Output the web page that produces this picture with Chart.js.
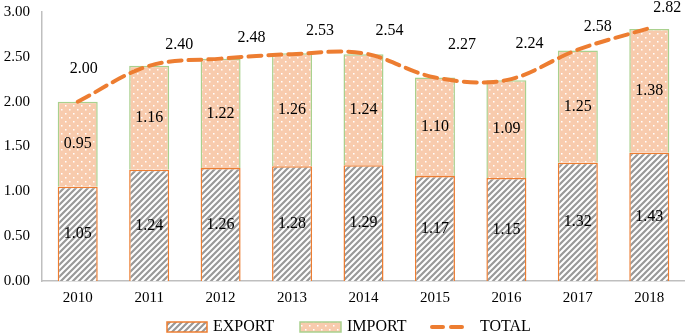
<!DOCTYPE html>
<html lang="en">
<head>
    <meta charset="UTF-8">
    <title>Export / Import / Total</title>
    <script src="https://cdn.jsdelivr.net/npm/chart.js@4.4.0/dist/chart.umd.min.js"></script>
    <style>
        html, body { margin: 0; padding: 0; background: #fff; }
        #wrap { position: relative; width: 685px; height: 335px; }
    </style>
</head>
<body>
    <div id="wrap"><canvas id="chart"></canvas></div>

    <script>
        const years = ['2010', '2011', '2012', '2013', '2014', '2015', '2016', '2017', '2018'];
        const exportValues = [1.05, 1.24, 1.26, 1.28, 1.29, 1.17, 1.15, 1.32, 1.43];
        const importValues = [0.95, 1.16, 1.22, 1.26, 1.24, 1.10, 1.09, 1.25, 1.38];
        const totalValues = [2.00, 2.40, 2.48, 2.53, 2.54, 2.27, 2.24, 2.58, 2.82];
        const yTicks = [0, 0.5, 1, 1.5, 2, 2.5, 3];

        const serif = '"Liberation Serif", "Times New Roman", serif';

        // hatch pattern for export
        function hatchPattern() {
            const c = document.createElement('canvas');
            c.width = 6; c.height = 6;
            const g = c.getContext('2d');
            g.fillStyle = '#fff';
            g.fillRect(0, 0, 6, 6);
            g.strokeStyle = '#999999';
            g.lineWidth = 2.2;
            g.beginPath();
            g.moveTo(-1, 7); g.lineTo(7, -1);
            g.moveTo(-4, 4); g.lineTo(4, -4);
            g.moveTo(2, 10); g.lineTo(10, 2);
            g.stroke();
            return g.createPattern(c, 'repeat');
        }

        // dotted pattern for import
        function dotPattern() {
            const c = document.createElement('canvas');
            c.width = 8; c.height = 8;
            const g = c.getContext('2d');
            g.fillStyle = '#f8cbad';
            g.fillRect(0, 0, 8, 8);
            g.fillStyle = '#fff';
            g.fillRect(1, 1, 1.5, 1.5);
            g.fillRect(5, 5, 1.5, 1.5);
            return g.createPattern(c, 'repeat');
        }

        const hatch = hatchPattern();
        const dots = dotPattern();

        const valueLabels = {
            id: 'valueLabels',
            afterDatasetsDraw(chart, args, opts) {
                const ctx = chart.ctx;
                ctx.save();
                ctx.font = '16px ' + serif;
                ctx.fillStyle = '#000';
                ctx.textAlign = 'center';
                ctx.textBaseline = 'middle';
                chart.data.datasets.forEach((ds, i) => {
                    const meta = chart.getDatasetMeta(i);
                    meta.data.forEach((el, j) => {
                        const txt = ds.data[j].toFixed(2);
                        if (ds.type === 'line') {
                            ctx.fillText(txt, el.x + opts.dx[j], el.y - opts.dy[j]);
                        } else {
                            ctx.fillText(txt, el.x, (el.y + el.base) / 2);
                        }
                    });
                });
                ctx.restore();
            }
        };

        const customLegend = {
            id: 'customLegend',
            afterDraw(chart) {
                const ctx = chart.ctx;
                const y = 327;
                ctx.save();
                ctx.font = '16px ' + serif;
                ctx.fillStyle = '#000';
                ctx.textBaseline = 'middle';

                ctx.fillStyle = hatch;
                ctx.fillRect(167, y - 5, 40, 10);
                ctx.strokeStyle = '#ed7d31';
                ctx.lineWidth = 1.5;
                ctx.strokeRect(167, y - 5, 40, 10);
                ctx.fillStyle = '#000';
                ctx.fillText(chart.data.datasets[1].label, 213, y);

                ctx.fillStyle = dots;
                ctx.fillRect(300, y - 5, 41, 10);
                ctx.strokeStyle = '#a9d18e';
                ctx.strokeRect(300, y - 5, 41, 10);
                ctx.fillStyle = '#000';
                ctx.fillText(chart.data.datasets[2].label, 347, y);

                ctx.strokeStyle = '#ed7d31';
                ctx.lineWidth = 4;
                ctx.lineCap = 'round';
                ctx.setLineDash([11, 8]);
                ctx.beginPath();
                ctx.moveTo(432, y); ctx.lineTo(465, y);
                ctx.stroke();
                ctx.setLineDash([]);
                ctx.fillText(chart.data.datasets[0].label, 480, y);
                ctx.restore();
            }
        };

        new Chart(document.getElementById('chart'), {
            type: 'bar',
            data: {
                labels: years,
                datasets: [{
                    type: 'line',
                    label: 'TOTAL',
                    data: totalValues,
                    stack: 'total',
                    borderColor: '#ed7d31',
                    borderWidth: 4,
                    borderDash: [13, 7],
                    borderCapStyle: 'round',
                    tension: 0.35,
                    pointRadius: 0,
                    fill: false,
                    order: 0
                }, {
                    label: 'EXPORT',
                    data: exportValues,
                    stack: 'trade',
                    backgroundColor: hatch,
                    borderColor: '#ed7d31',
                    borderWidth: 1.5,
                    barPercentage: 0.56,
                    categoryPercentage: 1,
                    order: 1
                }, {
                    label: 'IMPORT',
                    data: importValues,
                    stack: 'trade',
                    backgroundColor: dots,
                    borderColor: '#a9d18e',
                    borderWidth: 1.5,
                    barPercentage: 0.56,
                    categoryPercentage: 1,
                    order: 1
                }]
            },
            options: {
                responsive: true,
                maintainAspectRatio: false,
                animation: false,
                layout: { autoPadding: false, padding: { top: 12, bottom: 20, right: 0, left: 0 } },
                plugins: {
                    legend: { display: false },
                    tooltip: { enabled: false },
                    valueLabels: {
                        dx: [6, 30, 31, 28, 26, 27, 23, 20, 18],
                        dy: [33, 21, 21, 23, 22, 33, 36, 23, 20]
                    }
                },
                scales: {
                    x: {
                        stacked: true,
                        grid: { display: false, drawTicks: false },
                        border: { color: '#bfbfbf', width: 1.5 },
                        ticks: { color: '#000', font: { family: serif, size: 15 }, padding: 8 }
                    },
                    y: {
                        stacked: true,
                        min: 0,
                        max: 3,
                        afterBuildTicks(scale) {
                            scale.ticks = yTicks.map(v => ({ value: v }));
                        },
                        afterFit(scale) {
                            scale.width = 42;
                            scale.paddingTop = 0;
                            scale.paddingBottom = 0;
                        },
                        grid: { display: false, drawTicks: false },
                        border: { color: '#bfbfbf', width: 1.5 },
                        ticks: {
                            color: '#000',
                            font: { family: serif, size: 15 },
                            padding: 12,
                            callback: v => Number(v).toFixed(2)
                        }
                    }
                }
            },
            plugins: [valueLabels, customLegend]
        });
    </script>
</body>
</html>
